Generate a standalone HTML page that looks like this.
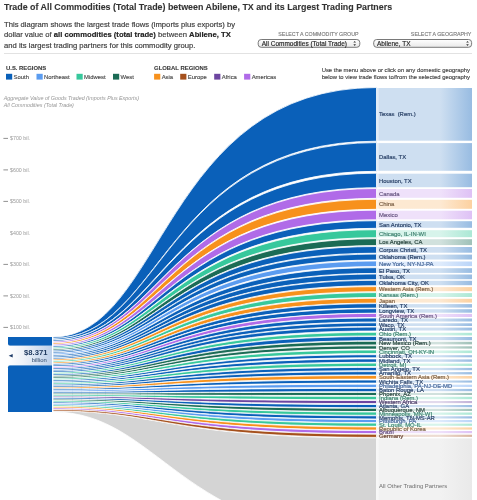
<!DOCTYPE html>
<html><head><meta charset="utf-8"><style>
html,body{margin:0;padding:0;background:#fff;width:477px;height:500px;overflow:hidden}
svg{display:block}
text{font-family:"Liberation Sans", sans-serif}
</style></head><body><div style="will-change:transform;width:477px;height:500px">
<svg width="477" height="500" viewBox="0 0 477 500" font-family="Liberation Sans, sans-serif">
<defs>
<linearGradient id="gS" x1="0" x2="1" y1="0" y2="0"><stop offset="0" stop-color="#e2ecf7"/><stop offset="0.022" stop-color="#e2ecf7"/><stop offset="0.035" stop-color="#cedff1"/><stop offset="0.67" stop-color="#cedff1"/><stop offset="1" stop-color="#98bce2"/></linearGradient><linearGradient id="gNE" x1="0" x2="1" y1="0" y2="0"><stop offset="0" stop-color="#ebf3fd"/><stop offset="0.022" stop-color="#ebf3fd"/><stop offset="0.035" stop-color="#deebfc"/><stop offset="0.67" stop-color="#deebfc"/><stop offset="1" stop-color="#bad5f9"/></linearGradient><linearGradient id="gMW" x1="0" x2="1" y1="0" y2="0"><stop offset="0" stop-color="#e7f8f3"/><stop offset="0.022" stop-color="#e7f8f3"/><stop offset="0.035" stop-color="#d7f4eb"/><stop offset="0.67" stop-color="#d7f4eb"/><stop offset="1" stop-color="#abe8d5"/></linearGradient><linearGradient id="gW" x1="0" x2="1" y1="0" y2="0"><stop offset="0" stop-color="#e4edeb"/><stop offset="0.022" stop-color="#e4edeb"/><stop offset="0.035" stop-color="#d1e1dd"/><stop offset="0.67" stop-color="#d1e1dd"/><stop offset="1" stop-color="#9fc1b8"/></linearGradient><linearGradient id="gAS" x1="0" x2="1" y1="0" y2="0"><stop offset="0" stop-color="#fef2e4"/><stop offset="0.022" stop-color="#fef2e4"/><stop offset="0.035" stop-color="#fde9d2"/><stop offset="0.67" stop-color="#fde9d2"/><stop offset="1" stop-color="#fcd1a0"/></linearGradient><linearGradient id="gEU" x1="0" x2="1" y1="0" y2="0"><stop offset="0" stop-color="#f4eae4"/><stop offset="0.022" stop-color="#f4eae4"/><stop offset="0.035" stop-color="#eddcd2"/><stop offset="0.67" stop-color="#eddcd2"/><stop offset="1" stop-color="#d9b6a0"/></linearGradient><linearGradient id="gAF" x1="0" x2="1" y1="0" y2="0"><stop offset="0" stop-color="#ede9f4"/><stop offset="0.022" stop-color="#ede9f4"/><stop offset="0.035" stop-color="#e2daec"/><stop offset="0.67" stop-color="#e2daec"/><stop offset="1" stop-color="#c1b1d7"/></linearGradient><linearGradient id="gAM" x1="0" x2="1" y1="0" y2="0"><stop offset="0" stop-color="#f6edfc"/><stop offset="0.022" stop-color="#f6edfc"/><stop offset="0.035" stop-color="#efe1fa"/><stop offset="0.67" stop-color="#efe1fa"/><stop offset="1" stop-color="#dec1f5"/></linearGradient><linearGradient id="gG" x1="0" x2="1" y1="0" y2="0"><stop offset="0" stop-color="#f7f7f7"/><stop offset="0.022" stop-color="#f7f7f7"/><stop offset="0.035" stop-color="#f2f2f2"/><stop offset="0.67" stop-color="#f2f2f2"/><stop offset="1" stop-color="#e9e9e9"/></linearGradient>
<linearGradient id="lbl" x1="0" x2="1" y1="0" y2="0"><stop offset="0" stop-color="#ffffff"/><stop offset="0.35" stop-color="#eef2f8"/><stop offset="1" stop-color="#bcd0ea"/></linearGradient>
<filter id="bl" x="-1%" y="-1%" width="102%" height="102%"><feGaussianBlur stdDeviation="0.45"/></filter>
<linearGradient id="sel" x1="0" x2="0" y1="0" y2="1"><stop offset="0" stop-color="#ffffff"/><stop offset="1" stop-color="#e8e8e8"/></linearGradient>
</defs>
<rect width="477" height="500" fill="#fff"/>
<text x="4" y="10.3" font-size="8.87" font-weight="bold" fill="#333" stroke="#333" stroke-width="0.1">Trade of All Commodities (Total Trade) between Abilene, TX and its Largest Trading Partners</text>
<g font-size="7.67" fill="#3a3a3a" stroke="#3a3a3a" stroke-width="0.16">
<text x="4" y="26.9">This diagram shows the largest trade flows (imports plus exports) by</text>
<text x="4" y="37.25">dollar value of <tspan font-weight="bold" fill="#222" stroke="#222">all commodities (total trade)</tspan> between <tspan font-weight="bold" fill="#222" stroke="#222">Abilene, TX</tspan></text>
<text x="4" y="47.6">and its largest trading partners for this commodity group.</text>
</g>
<g font-size="5.3" fill="#7c7c7c" stroke="#7c7c7c" stroke-width="0.14">
<text x="358.5" y="35.7" text-anchor="end">SELECT A COMMODITY GROUP</text>
<text x="471.4" y="35.7" text-anchor="end">SELECT A GEOGRAPHY</text>
</g>
<rect x="258.2" y="39.5" width="101.6" height="7.8" rx="3" fill="url(#sel)" stroke="#6a6a6a" stroke-width="0.9"/>
<rect x="373.7" y="39.5" width="97.9" height="7.8" rx="3" fill="url(#sel)" stroke="#6a6a6a" stroke-width="0.9"/>
<g font-size="6.5" fill="#222" stroke="#222" stroke-width="0.14">
<text x="261.7" y="45.6">All Commodities (Total Trade)</text>
<text x="377" y="45.6">Abilene, TX</text>
</g>
<g fill="#333">
<path d="M353.4,42.6 L356,42.6 L354.7,40.9 Z"/><path d="M353.4,44.2 L356,44.2 L354.7,45.9 Z"/>
<path d="M466.2,42.6 L468.8,42.6 L467.5,40.9 Z"/><path d="M466.2,44.2 L468.8,44.2 L467.5,45.9 Z"/>
</g>
<line x1="4" x2="472" y1="53.5" y2="53.5" stroke="#e2e2e2" stroke-width="1"/>
<g font-size="5.9" font-weight="bold" fill="#3c3c3c" stroke="#3c3c3c" stroke-width="0.1">
<text x="6" y="69.8">U.S. REGIONS</text>
<text x="154.1" y="69.8">GLOBAL REGIONS</text>
</g>
<rect x="6" y="73.8" width="6.2" height="5.8" fill="#0a60b9"/><text x="13.6" y="78.9" fill="#4a4a4a" stroke="#4a4a4a" stroke-width="0.14" font-size="5.9">South</text><rect x="36.5" y="73.8" width="6.2" height="5.8" fill="#5b9cf0"/><text x="44.1" y="78.9" fill="#4a4a4a" stroke="#4a4a4a" stroke-width="0.14" font-size="5.9">Northeast</text><rect x="76.5" y="73.8" width="6.2" height="5.8" fill="#37c89c"/><text x="84.1" y="78.9" fill="#4a4a4a" stroke="#4a4a4a" stroke-width="0.14" font-size="5.9">Midwest</text><rect x="113" y="73.8" width="6.2" height="5.8" fill="#1b6b55"/><text x="120.6" y="78.9" fill="#4a4a4a" stroke="#4a4a4a" stroke-width="0.14" font-size="5.9">West</text><rect x="154.1" y="73.8" width="6.2" height="5.8" fill="#f7911c"/><text x="161.7" y="78.9" fill="#4a4a4a" stroke="#4a4a4a" stroke-width="0.14" font-size="5.9">Asia</text><rect x="180.2" y="73.8" width="6.2" height="5.8" fill="#a5501c"/><text x="187.8" y="78.9" fill="#4a4a4a" stroke="#4a4a4a" stroke-width="0.14" font-size="5.9">Europe</text><rect x="214.2" y="73.8" width="6.2" height="5.8" fill="#6c45a0"/><text x="221.8" y="78.9" fill="#4a4a4a" stroke="#4a4a4a" stroke-width="0.14" font-size="5.9">Africa</text><rect x="244.1" y="73.8" width="6.2" height="5.8" fill="#b06be8"/><text x="251.7" y="78.9" fill="#4a4a4a" stroke="#4a4a4a" stroke-width="0.14" font-size="5.9">Americas</text>
<g font-size="5.9" fill="#444" stroke="#444" stroke-width="0.14" text-anchor="end">
<text x="470" y="71.7">Use the menu above or click on any domestic geography</text>
<text x="470" y="78.9">below to view trade flows to/from the selected geography</text>
</g>
<g font-size="5.35" font-style="italic" fill="#959595">
<text x="3.8" y="99.7">Aggregate Value of Goods Traded (Imports Plus Exports)</text>
<text x="3.8" y="106.5">All Commodities (Total Trade)</text>
</g>
<line x1="3.4" x2="8" y1="138.40" y2="138.40" stroke="#555" stroke-width="0.65"/><text x="10" y="140.40" fill="#999" font-size="5.3">$700 bil.</text><line x1="3.4" x2="8" y1="169.90" y2="169.90" stroke="#555" stroke-width="0.65"/><text x="10" y="171.90" fill="#999" font-size="5.3">$600 bil.</text><line x1="3.4" x2="8" y1="201.40" y2="201.40" stroke="#555" stroke-width="0.65"/><text x="10" y="203.40" fill="#999" font-size="5.3">$500 bil.</text><text x="10" y="234.90" fill="#999" font-size="5.3">$400 bil.</text><line x1="3.4" x2="8" y1="264.40" y2="264.40" stroke="#555" stroke-width="0.65"/><text x="10" y="266.40" fill="#999" font-size="5.3">$300 bil.</text><line x1="3.4" x2="8" y1="295.90" y2="295.90" stroke="#555" stroke-width="0.65"/><text x="10" y="297.90" fill="#999" font-size="5.3">$200 bil.</text><line x1="3.4" x2="8" y1="327.40" y2="327.40" stroke="#555" stroke-width="0.65"/><text x="10" y="329.40" fill="#999" font-size="5.3">$100 bil.</text>
<g stroke="#fff" stroke-width="0.8" stroke-linejoin="round">
<path d="M53.0,411 C163.0,411 163.6,437.90 376.6,437.90 L376.6,537 C180.6,537 159.0,412 53.0,412 Z" fill="#d4d4d4"/>
<path d="M53.0,337.00 C163.0,337.00 163.6,87.50 376.6,87.50 L376.6,141.20 C163.6,141.20 163.0,338.48 53.0,338.48 Z" fill="#0a60b9"/><path d="M53.0,338.48 C163.0,338.48 163.6,142.60 376.6,142.60 L376.6,171.30 C163.6,171.30 163.0,339.96 53.0,339.96 Z" fill="#0a60b9"/><path d="M53.0,339.96 C163.0,339.96 163.6,173.20 376.6,173.20 L376.6,187.70 C163.6,187.70 163.0,341.44 53.0,341.44 Z" fill="#0a60b9"/><path d="M53.0,341.44 C163.0,341.44 163.6,188.50 376.6,188.50 L376.6,198.30 C163.6,198.30 163.0,342.92 53.0,342.92 Z" fill="#b06be8"/><path d="M53.0,342.92 C163.0,342.92 163.6,199.30 376.6,199.30 L376.6,209.30 C163.6,209.30 163.0,344.40 53.0,344.40 Z" fill="#f7911c"/><path d="M53.0,344.40 C163.0,344.40 163.6,210.20 376.6,210.20 L376.6,219.80 C163.6,219.80 163.0,345.88 53.0,345.88 Z" fill="#b06be8"/><path d="M53.0,345.88 C163.0,345.88 163.6,220.70 376.6,220.70 L376.6,228.30 C163.6,228.30 163.0,347.36 53.0,347.36 Z" fill="#0a60b9"/><path d="M53.0,347.36 C163.0,347.36 163.6,229.70 376.6,229.70 L376.6,237.70 C163.6,237.70 163.0,348.84 53.0,348.84 Z" fill="#37c89c"/><path d="M53.0,348.84 C163.0,348.84 163.6,238.70 376.6,238.70 L376.6,245.60 C163.6,245.60 163.0,350.32 53.0,350.32 Z" fill="#1b6b55"/><path d="M53.0,350.32 C163.0,350.32 163.6,246.50 376.6,246.50 L376.6,253.20 C163.6,253.20 163.0,351.80 53.0,351.80 Z" fill="#0a60b9"/><path d="M53.0,351.80 C163.0,351.80 163.6,254.10 376.6,254.10 L376.6,260.00 C163.6,260.00 163.0,353.28 53.0,353.28 Z" fill="#0a60b9"/><path d="M53.0,353.28 C163.0,353.28 163.6,261.00 376.6,261.00 L376.6,266.60 C163.6,266.60 163.0,354.76 53.0,354.76 Z" fill="#5b9cf0"/><path d="M53.0,354.76 C163.0,354.76 163.6,267.70 376.6,267.70 L376.6,273.40 C163.6,273.40 163.0,356.24 53.0,356.24 Z" fill="#0a60b9"/><path d="M53.0,356.24 C163.0,356.24 163.6,274.00 376.6,274.00 L376.6,279.70 C163.6,279.70 163.0,357.72 53.0,357.72 Z" fill="#0a60b9"/><path d="M53.0,357.72 C163.0,357.72 163.6,280.30 376.6,280.30 L376.6,285.70 C163.6,285.70 163.0,359.20 53.0,359.20 Z" fill="#0a60b9"/><path d="M53.0,359.20 C163.0,359.20 163.6,286.60 376.6,286.60 L376.6,291.70 C163.6,291.70 163.0,360.68 53.0,360.68 Z" fill="#f7911c"/><path d="M53.0,360.68 C163.0,360.68 163.6,292.60 376.6,292.60 L376.6,297.50 C163.6,297.50 163.0,362.16 53.0,362.16 Z" fill="#37c89c"/><path d="M53.0,362.16 C163.0,362.16 163.6,298.30 376.6,298.30 L376.6,303.10 C163.6,303.10 163.0,363.64 53.0,363.64 Z" fill="#f7911c"/><path d="M53.0,363.64 C163.0,363.64 163.6,303.60 376.6,303.60 L376.6,308.10 C163.6,308.10 163.0,365.12 53.0,365.12 Z" fill="#0a60b9"/><path d="M53.0,365.12 C163.0,365.12 163.6,308.70 376.6,308.70 L376.6,313.20 C163.6,313.20 163.0,366.60 53.0,366.60 Z" fill="#0a60b9"/><path d="M53.0,366.60 C163.0,366.60 163.6,313.40 376.6,313.40 L376.6,317.50 C163.6,317.50 163.0,368.08 53.0,368.08 Z" fill="#b06be8"/><path d="M53.0,368.08 C163.0,368.08 163.6,318.00 376.6,318.00 L376.6,322.00 C163.6,322.00 163.0,369.56 53.0,369.56 Z" fill="#0a60b9"/><path d="M53.0,369.56 C163.0,369.56 163.6,322.80 376.6,322.80 L376.6,326.50 C163.6,326.50 163.0,371.04 53.0,371.04 Z" fill="#0a60b9"/><path d="M53.0,371.04 C163.0,371.04 163.6,327.10 376.6,327.10 L376.6,331.00 C163.6,331.00 163.0,372.52 53.0,372.52 Z" fill="#0a60b9"/><path d="M53.0,372.52 C163.0,372.52 163.6,332.30 376.6,332.30 L376.6,335.90 C163.6,335.90 163.0,374.00 53.0,374.00 Z" fill="#37c89c"/><path d="M53.0,374.00 C163.0,374.00 163.6,336.50 376.6,336.50 L376.6,340.70 C163.6,340.70 163.0,375.48 53.0,375.48 Z" fill="#0a60b9"/><path d="M53.0,375.48 C163.0,375.48 163.6,341.30 376.6,341.30 L376.6,344.90 C163.6,344.90 163.0,376.96 53.0,376.96 Z" fill="#1b6b55"/><path d="M53.0,376.96 C163.0,376.96 163.6,345.80 376.6,345.80 L376.6,349.10 C163.6,349.10 163.0,378.44 53.0,378.44 Z" fill="#1b6b55"/><path d="M53.0,378.44 C163.0,378.44 163.6,350.00 376.6,350.00 L376.6,353.60 C163.6,353.60 163.0,379.92 53.0,379.92 Z" fill="#37c89c"/><path d="M53.0,379.92 C163.0,379.92 163.6,354.70 376.6,354.70 L376.6,357.80 C163.6,357.80 163.0,381.40 53.0,381.40 Z" fill="#0a60b9"/><path d="M53.0,381.40 C163.0,381.40 163.6,358.90 376.6,358.90 L376.6,362.30 C163.6,362.30 163.0,382.88 53.0,382.88 Z" fill="#0a60b9"/><path d="M53.0,382.88 C163.0,382.88 163.6,363.10 376.6,363.10 L376.6,366.50 C163.6,366.50 163.0,384.36 53.0,384.36 Z" fill="#37c89c"/><path d="M53.0,384.36 C163.0,384.36 163.6,367.40 376.6,367.40 L376.6,370.70 C163.6,370.70 163.0,385.84 53.0,385.84 Z" fill="#0a60b9"/><path d="M53.0,385.84 C163.0,385.84 163.6,371.60 376.6,371.60 L376.6,374.90 C163.6,374.90 163.0,387.32 53.0,387.32 Z" fill="#0a60b9"/><path d="M53.0,387.32 C163.0,387.32 163.6,375.50 376.6,375.50 L376.6,379.10 C163.6,379.10 163.0,388.80 53.0,388.80 Z" fill="#f7911c"/><path d="M53.0,388.80 C163.0,388.80 163.6,380.00 376.6,380.00 L376.6,383.10 C163.6,383.10 163.0,390.28 53.0,390.28 Z" fill="#0a60b9"/><path d="M53.0,390.28 C163.0,390.28 163.6,384.20 376.6,384.20 L376.6,387.50 C163.6,387.50 163.0,391.76 53.0,391.76 Z" fill="#5b9cf0"/><path d="M53.0,391.76 C163.0,391.76 163.6,388.40 376.6,388.40 L376.6,391.70 C163.6,391.70 163.0,393.24 53.0,393.24 Z" fill="#0a60b9"/><path d="M53.0,393.24 C163.0,393.24 163.6,392.40 376.6,392.40 L376.6,395.50 C163.6,395.50 163.0,394.72 53.0,394.72 Z" fill="#1b6b55"/><path d="M53.0,394.72 C163.0,394.72 163.6,396.30 376.6,396.30 L376.6,399.70 C163.6,399.70 163.0,396.20 53.0,396.20 Z" fill="#37c89c"/><path d="M53.0,396.20 C163.0,396.20 163.6,400.50 376.6,400.50 L376.6,403.60 C163.6,403.60 163.0,397.68 53.0,397.68 Z" fill="#6c45a0"/><path d="M53.0,397.68 C163.0,397.68 163.6,404.50 376.6,404.50 L376.6,407.70 C163.6,407.70 163.0,399.16 53.0,399.16 Z" fill="#0a60b9"/><path d="M53.0,399.16 C163.0,399.16 163.6,408.30 376.6,408.30 L376.6,411.50 C163.6,411.50 163.0,400.64 53.0,400.64 Z" fill="#1b6b55"/><path d="M53.0,400.64 C163.0,400.64 163.6,412.00 376.6,412.00 L376.6,415.30 C163.6,415.30 163.0,402.12 53.0,402.12 Z" fill="#37c89c"/><path d="M53.0,402.12 C163.0,402.12 163.6,415.80 376.6,415.80 L376.6,419.00 C163.6,419.00 163.0,403.60 53.0,403.60 Z" fill="#0a60b9"/><path d="M53.0,403.60 C163.0,403.60 163.6,419.50 376.6,419.50 L376.6,422.70 C163.6,422.70 163.0,405.08 53.0,405.08 Z" fill="#5b9cf0"/><path d="M53.0,405.08 C163.0,405.08 163.6,423.10 376.6,423.10 L376.6,426.30 C163.6,426.30 163.0,406.56 53.0,406.56 Z" fill="#37c89c"/><path d="M53.0,406.56 C163.0,406.56 163.6,426.90 376.6,426.90 L376.6,430.10 C163.6,430.10 163.0,408.04 53.0,408.04 Z" fill="#f7911c"/><path d="M53.0,408.04 C163.0,408.04 163.6,430.50 376.6,430.50 L376.6,433.70 C163.6,433.70 163.0,409.52 53.0,409.52 Z" fill="#b06be8"/><path d="M53.0,409.52 C163.0,409.52 163.6,434.20 376.6,434.20 L376.6,437.40 C163.6,437.40 163.0,411.00 53.0,411.00 Z" fill="#a5501c"/>
</g>
<rect x="376" y="88.00" width="96" height="52.70" fill="url(#gS)"/><rect x="376" y="143.10" width="96" height="27.70" fill="url(#gS)"/><rect x="376" y="173.70" width="96" height="13.50" fill="url(#gS)"/><rect x="376" y="189.00" width="96" height="8.80" fill="url(#gAM)"/><rect x="376" y="199.80" width="96" height="9.00" fill="url(#gAS)"/><rect x="376" y="210.70" width="96" height="8.60" fill="url(#gAM)"/><rect x="376" y="221.20" width="96" height="6.60" fill="url(#gS)"/><rect x="376" y="230.20" width="96" height="7.00" fill="url(#gMW)"/><rect x="376" y="239.20" width="96" height="5.90" fill="url(#gW)"/><rect x="376" y="247.00" width="96" height="5.70" fill="url(#gS)"/><rect x="376" y="254.60" width="96" height="4.90" fill="url(#gS)"/><rect x="376" y="261.50" width="96" height="4.60" fill="url(#gNE)"/><rect x="376" y="268.20" width="96" height="4.70" fill="url(#gS)"/><rect x="376" y="274.50" width="96" height="4.70" fill="url(#gS)"/><rect x="376" y="280.80" width="96" height="4.40" fill="url(#gS)"/><rect x="376" y="287.10" width="96" height="4.10" fill="url(#gAS)"/><rect x="376" y="293.10" width="96" height="3.90" fill="url(#gMW)"/><rect x="376" y="298.80" width="96" height="3.80" fill="url(#gAS)"/><rect x="376" y="304.10" width="96" height="3.50" fill="url(#gS)"/><rect x="376" y="309.20" width="96" height="3.50" fill="url(#gS)"/><rect x="376" y="313.90" width="96" height="3.10" fill="url(#gAM)"/><rect x="376" y="318.50" width="96" height="3.00" fill="url(#gS)"/><rect x="376" y="323.30" width="96" height="2.70" fill="url(#gS)"/><rect x="376" y="327.60" width="96" height="2.90" fill="url(#gS)"/><rect x="376" y="332.80" width="96" height="2.60" fill="url(#gMW)"/><rect x="376" y="337.00" width="96" height="3.20" fill="url(#gS)"/><rect x="376" y="341.80" width="96" height="2.60" fill="url(#gW)"/><rect x="376" y="346.30" width="96" height="2.30" fill="url(#gW)"/><rect x="376" y="350.50" width="96" height="2.60" fill="url(#gMW)"/><rect x="376" y="355.20" width="96" height="2.10" fill="url(#gS)"/><rect x="376" y="359.40" width="96" height="2.40" fill="url(#gS)"/><rect x="376" y="363.60" width="96" height="2.40" fill="url(#gMW)"/><rect x="376" y="367.90" width="96" height="2.30" fill="url(#gS)"/><rect x="376" y="372.10" width="96" height="2.30" fill="url(#gS)"/><rect x="376" y="376.00" width="96" height="2.60" fill="url(#gAS)"/><rect x="376" y="380.50" width="96" height="2.10" fill="url(#gS)"/><rect x="376" y="384.70" width="96" height="2.30" fill="url(#gNE)"/><rect x="376" y="388.90" width="96" height="2.30" fill="url(#gS)"/><rect x="376" y="392.90" width="96" height="2.10" fill="url(#gW)"/><rect x="376" y="396.80" width="96" height="2.40" fill="url(#gMW)"/><rect x="376" y="401.00" width="96" height="2.10" fill="url(#gAF)"/><rect x="376" y="405.00" width="96" height="2.20" fill="url(#gS)"/><rect x="376" y="408.80" width="96" height="2.20" fill="url(#gW)"/><rect x="376" y="412.50" width="96" height="2.30" fill="url(#gMW)"/><rect x="376" y="416.30" width="96" height="2.20" fill="url(#gS)"/><rect x="376" y="420.00" width="96" height="2.20" fill="url(#gNE)"/><rect x="376" y="423.60" width="96" height="2.20" fill="url(#gMW)"/><rect x="376" y="427.40" width="96" height="2.20" fill="url(#gAS)"/><rect x="376" y="431.00" width="96" height="2.20" fill="url(#gAM)"/><rect x="376" y="434.70" width="96" height="2.20" fill="url(#gEU)"/><rect x="376" y="438.4" width="96" height="100" fill="url(#gG)"/>
<g font-size="5.9" stroke-width="0.18" style="paint-order:normal">
<text x="379" y="116.45" fill="#2a4268" stroke="#2a4268">Texas&#160; (Rem.)</text><text x="379" y="159.05" fill="#2a4268" stroke="#2a4268">Dallas, TX</text><text x="379" y="182.55" fill="#2a4268" stroke="#2a4268">Houston, TX</text><text x="379" y="195.50" fill="#685682" stroke="#685682">Canada</text><text x="379" y="206.40" fill="#7d6248" stroke="#7d6248">China</text><text x="379" y="217.10" fill="#685682" stroke="#685682">Mexico</text><text x="379" y="226.60" fill="#2a4268" stroke="#2a4268">San Antonio, TX</text><text x="379" y="235.80" fill="#3f8270" stroke="#3f8270">Chicago, IL-IN-WI</text><text x="379" y="244.25" fill="#2a463f" stroke="#2a463f">Los Angeles, CA</text><text x="379" y="251.95" fill="#2a4268" stroke="#2a4268">Corpus Christi, TX</text><text x="379" y="259.15" fill="#2a4268" stroke="#2a4268">Oklahoma (Rem.)</text><text x="379" y="265.90" fill="#4a6a9a" stroke="#4a6a9a">New York, NY-NJ-PA</text><text x="379" y="272.65" fill="#2a4268" stroke="#2a4268">El Paso, TX</text><text x="379" y="278.95" fill="#2a4268" stroke="#2a4268">Tulsa, OK</text><text x="379" y="285.10" fill="#2a4268" stroke="#2a4268">Oklahoma City, OK</text><text x="379" y="291.25" fill="#7d6248" stroke="#7d6248">Western Asia (Rem.)</text><text x="379" y="297.15" fill="#3f8270" stroke="#3f8270">Kansas (Rem.)</text><text x="379" y="302.80" fill="#7d6248" stroke="#7d6248">Japan</text><text x="379" y="307.95" fill="#2a4268" stroke="#2a4268">Killeen, TX</text><text x="379" y="313.05" fill="#2a4268" stroke="#2a4268">Longview, TX</text><text x="379" y="317.55" fill="#685682" stroke="#685682">South America (Rem.)</text><text x="379" y="322.10" fill="#2a4268" stroke="#2a4268">Laredo, TX</text><text x="379" y="326.75" fill="#2a4268" stroke="#2a4268">Waco, TX</text><text x="379" y="331.15" fill="#2a4268" stroke="#2a4268">Austin, TX</text><text x="379" y="336.20" fill="#3f8270" stroke="#3f8270">Ohio (Rem.)</text><text x="379" y="340.70" fill="#2a4268" stroke="#2a4268">Beaumont, TX</text><text x="379" y="345.20" fill="#2a463f" stroke="#2a463f">New Mexico (Rem.)</text><text x="379" y="349.55" fill="#2a463f" stroke="#2a463f">Denver, CO</text><text x="379" y="353.90" fill="#3f8270" stroke="#3f8270">Cincinnati, OH-KY-IN</text><text x="379" y="358.35" fill="#2a4268" stroke="#2a4268">Lubbock, TX</text><text x="379" y="362.70" fill="#2a4268" stroke="#2a4268">Midland, TX</text><text x="379" y="366.90" fill="#3f8270" stroke="#3f8270">Detroit, MI</text><text x="379" y="371.15" fill="#2a4268" stroke="#2a4268">San Angelo, TX</text><text x="379" y="375.35" fill="#2a4268" stroke="#2a4268">Amarillo, TX</text><text x="379" y="379.40" fill="#7d6248" stroke="#7d6248">South-Eastern Asia (Rem.)</text><text x="379" y="383.65" fill="#2a4268" stroke="#2a4268">Wichita Falls, TX</text><text x="379" y="387.95" fill="#4a6a9a" stroke="#4a6a9a">Philadelphia, PA-NJ-DE-MD</text><text x="379" y="392.15" fill="#2a4268" stroke="#2a4268">Baton Rouge, LA</text><text x="379" y="396.05" fill="#2a463f" stroke="#2a463f">Phoenix, AZ</text><text x="379" y="400.10" fill="#3f8270" stroke="#3f8270">Indiana (Rem.)</text><text x="379" y="404.15" fill="#4a3c66" stroke="#4a3c66">Western Africa</text><text x="379" y="408.20" fill="#2a4268" stroke="#2a4268">Atlanta, GA</text><text x="379" y="412.00" fill="#2a463f" stroke="#2a463f">Albuquerque, NM</text><text x="379" y="415.75" fill="#3f8270" stroke="#3f8270">Minneapolis, MN-WI</text><text x="379" y="419.50" fill="#2a4268" stroke="#2a4268">Memphis, TN-MS-AR</text><text x="379" y="423.20" fill="#4a6a9a" stroke="#4a6a9a">Pittsburgh, PA</text><text x="379" y="426.80" fill="#3f8270" stroke="#3f8270">St. Louis, MO-IL</text><text x="379" y="430.60" fill="#7d6248" stroke="#7d6248">Republic of Korea</text><text x="379" y="434.20" fill="#685682" stroke="#685682">Brazil</text><text x="379" y="437.90" fill="#6a4634" stroke="#6a4634">Germany</text><text x="379" y="487.6" fill="#6e6e6e">All Other Trading Partners</text>
</g>
<path d="M8,337 H52 V345.8 H10 Q8,345.8 8,343.8 Z" fill="#0a60b9"/>
<path d="M10,365.2 H52 V412 H8 V367.2 Q8,365.2 10,365.2 Z" fill="#0a60b9"/>
<rect x="8" y="345.8" width="44" height="19.4" fill="url(#lbl)"/>
<path d="M8.7,355.7 L12.7,354 L12.7,357.4 Z" fill="#1d3b68"/>
<text x="47.5" y="355.2" text-anchor="end" font-size="7.67" font-weight="bold" fill="#1f3a60">$8.371</text>
<text x="46.8" y="361.6" text-anchor="end" font-size="5.9" fill="#2f4a6c">billion</text>
</svg>
</div></body></html>
